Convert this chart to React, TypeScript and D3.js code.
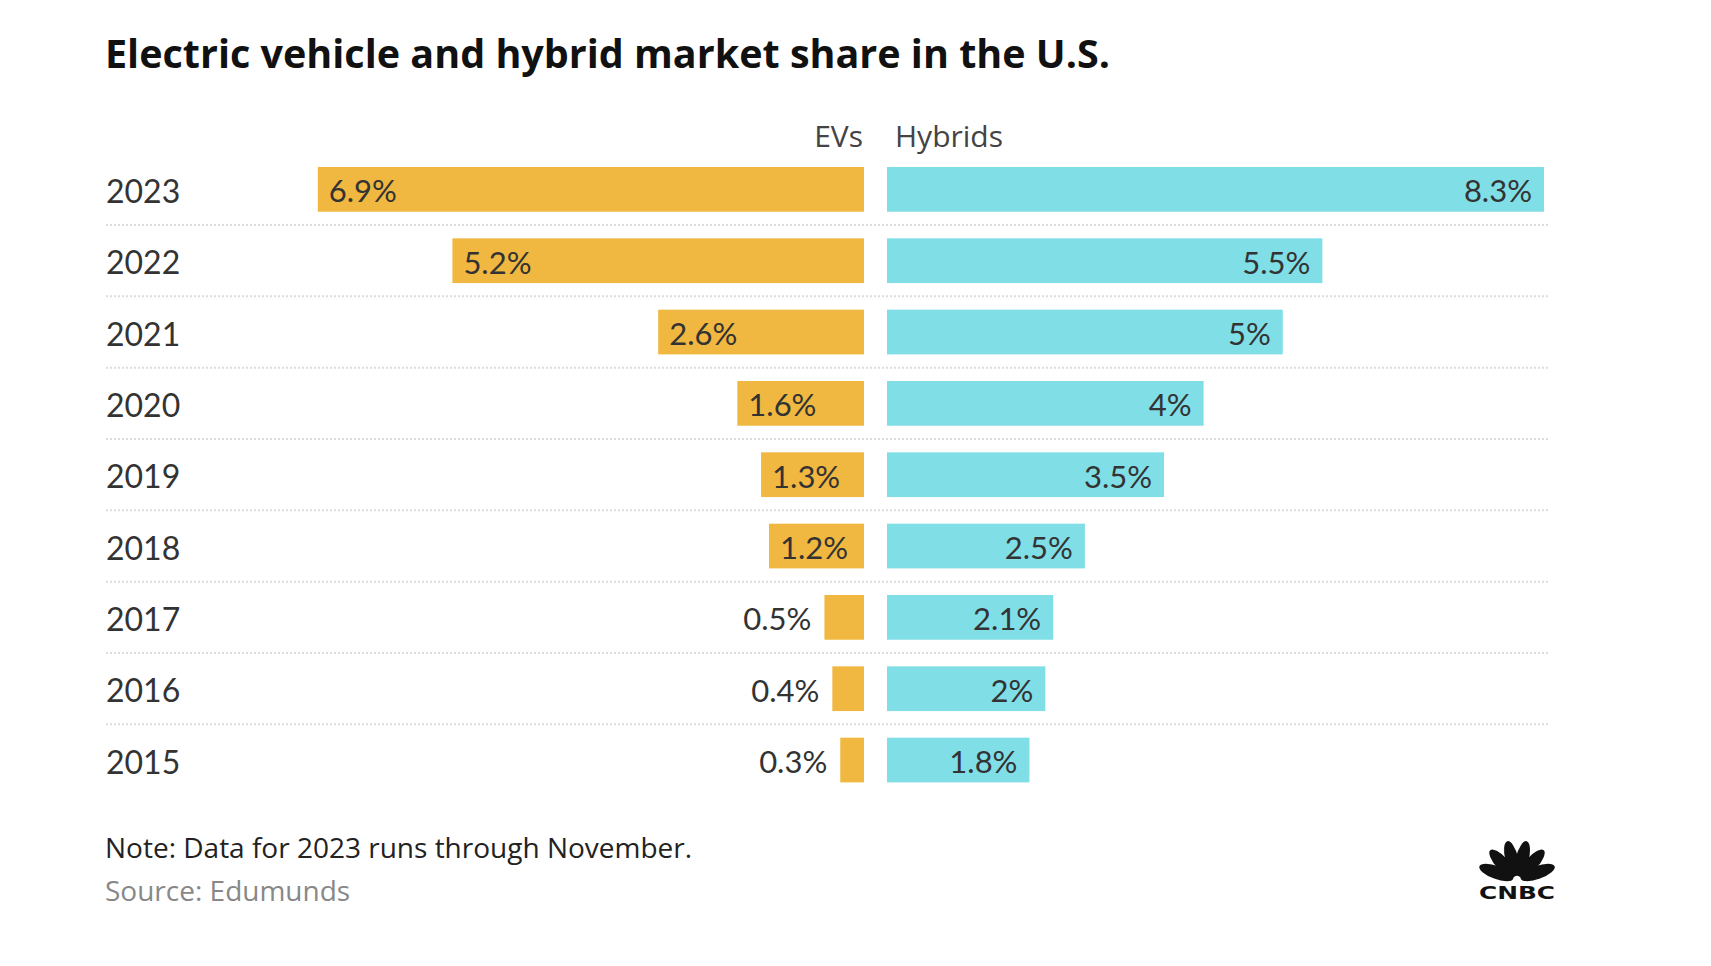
import React from "react";
import * as d3 from "d3";

const years = ["2023", "2022", "2021", "2020", "2019", "2018", "2017", "2016", "2015"];
const evShare = [6.9, 5.2, 2.6, 1.6, 1.3, 1.2, 0.5, 0.4, 0.3];
const hybridShare = [8.3, 5.5, 5, 4, 3.5, 2.5, 2.1, 2, 1.8];
const seriesNames = ["EVs", "Hybrids"];

const title = "Electric vehicle and hybrid market share in the U.S.";
const note = "Note: Data for 2023 runs through November.";
const source = "Source: Edumunds";

const W = 1711;
const H = 966;
const evRight = 864;
const hyLeft = 887;
const evColor = "#F0B840";
const hyColor = "#80DEE7";
const textColor = "#333";

const fmt = (v: number) => `${v}%`;

export default function App() {
  const x = d3.scaleLinear().domain([0, 8.3]).range([0, 657]);
  const y = d3
    .scaleBand()
    .domain(years)
    .range([153.7, 795.7])
    .paddingInner(0.373)
    .paddingOuter(0.1865);
  const bw = y.bandwidth();
  const step = y.step();

  // feathers of the peacock logo
  const feathers = d3.range(6).map(i => -70 + i * 28);

  return (
    <div style={{ position: "absolute", left: 0, top: 0 }}>
      <svg width={W} height={H} style={{ display: "block", background: "#fff" }}>
        <text
          x={105}
          y={68}
          fontFamily="Open Sans"
          fontWeight={700}
          fontSize={39.5}
          fill="#111"
        >
          {title}
        </text>

        <text x={evRight - 1} y={135} textAnchor="end" dominantBaseline="central"
          fontFamily="Open Sans" fontSize={30} fill="#444">
          {seriesNames[0]}
        </text>
        <text x={hyLeft + 8} y={135} dominantBaseline="central"
          fontFamily="Open Sans" fontSize={30} fill="#444">
          {seriesNames[1]}
        </text>

        {years.slice(0, -1).map(yr => (
          <line
            key={"sep" + yr}
            x1={106}
            x2={1549}
            y1={(y(yr) as number) + bw + (step - bw) / 2}
            y2={(y(yr) as number) + bw + (step - bw) / 2}
            stroke="#ddd"
            strokeWidth={2}
            strokeDasharray="2,2"
          />
        ))}

        {years.map((yr, i) => {
          const top = y(yr) as number;
          const cy = top + bw / 2;
          const ev = evShare[i];
          const hy = hybridShare[i];
          const evW = x(ev);
          const hyW = x(hy);
          const evInside = ev >= 1;
          return (
            <g key={yr} fontFamily="Lato" fontSize={31} fill={textColor}>
              <text x={106} y={cy + 1} dominantBaseline="central" fontSize={32}>
                {yr}
              </text>
              <rect x={evRight - evW} y={top} width={evW} height={bw} fill={evColor} />
              <rect x={hyLeft} y={top} width={hyW} height={bw} fill={hyColor} />
              <text
                x={evInside ? evRight - evW + 11 : evRight - evW - 13}
                y={cy + 1}
                textAnchor={evInside ? "start" : "end"}
                dominantBaseline="central"
              >
                {fmt(ev)}
              </text>
              <text x={hyLeft + hyW - 12} y={cy + 1} textAnchor="end" dominantBaseline="central">
                {fmt(hy)}
              </text>
            </g>
          );
        })}

        <text x={105} y={847} dominantBaseline="central" fontFamily="Open Sans"
          fontSize={28} fill="#222">
          {note}
        </text>
        <text x={105} y={890} dominantBaseline="central" fontFamily="Open Sans"
          fontSize={28} fill="#888">
          {source}
        </text>

        <g transform="translate(1517,880)">
          {feathers.map(a => (
            <ellipse
              key={a}
              cx={0}
              cy={-22}
              rx={6.5}
              ry={18}
              fill="#111"
              transform={`rotate(${a})`}
            />
          ))}
          <text x={0} y={19} textAnchor="middle" fontFamily="DejaVu Sans" fontWeight={700}
            fontSize={17} textLength={76} lengthAdjust="spacingAndGlyphs" fill="#111">
            CNBC
          </text>
        </g>
      </svg>
    </div>
  );
}
